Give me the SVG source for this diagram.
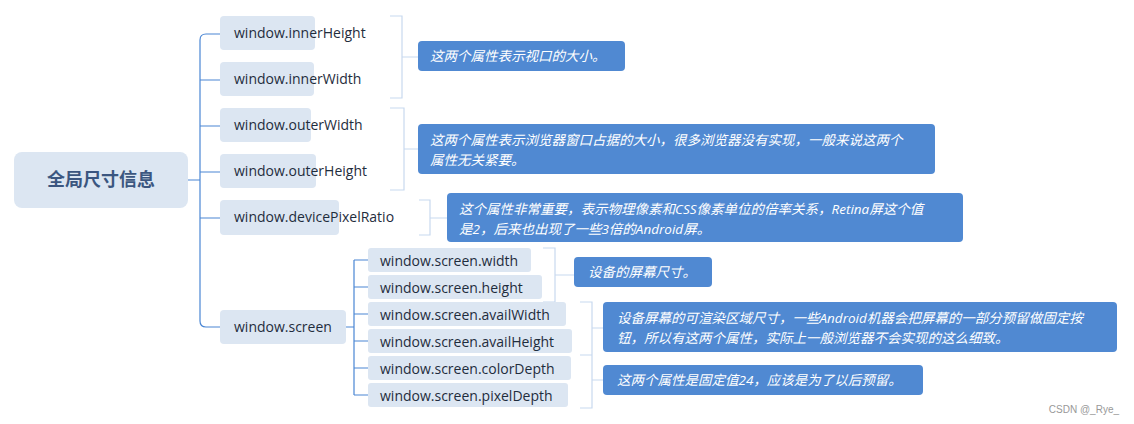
<svg xmlns="http://www.w3.org/2000/svg" width="1134" height="424" viewBox="0 0 1134 424">
<style>
.n{fill:#dce6f2}
.t{font-family:"Open Sans","Noto Sans",sans-serif;font-size:14px;fill:#1f2d3d}
.c{fill:#5089d2}
.ct{font-family:"Open Sans","Noto Sans CJK SC",sans-serif;font-size:13.5px;fill:#fff;font-style:italic}
.l{fill:none;stroke:#4a86d4;stroke-width:1.2}
.b{fill:none;stroke:#c8d9ef;stroke-width:1.2}
</style>
<rect width="1134" height="424" fill="#fff"/>
<g id="connectors">
<path class="l" d="M188 180H200M200 40Q200 34 206 34H220M200 40V321Q200 327 206 327H220M200 80H220M200 126H220M200 172H220M200 218H220"/>
<path class="l" d="M346 327H354M354 260V395M354 260H368M354 287H368M354 314H368M354 341H368M354 368H368M354 395H368"/>
<path class="b" d="M390 16H402V98H390M402 57H418M390 108H404V190H390M404 149H418M419 200H430V235H419M430 218H447M543 248H555V302H543M555 275H574M580 302H592V355H580M592 328H603M580 355H592V408H580M592 380H603"/>
</g>
<g id="root"><rect class="n" x="14" y="152" width="174" height="56" rx="8"/><text x="101" y="186" text-anchor="middle" style="font-family:'Noto Sans CJK SC',sans-serif;font-size:18px;font-weight:bold;fill:#3b5680">全局尺寸信息</text></g>
<g id="innerHeight"><rect class="n" x="220" y="16" width="95" height="34" rx="4"/><text class="t" x="234" y="38">window.innerHeight</text></g>
<g id="innerWidth"><rect class="n" x="220" y="62" width="94" height="34" rx="4"/><text class="t" x="234" y="84">window.innerWidth</text></g>
<g id="outerWidth"><rect class="n" x="220" y="108" width="91" height="34" rx="4"/><text class="t" x="234" y="130">window.outerWidth</text></g>
<g id="outerHeight"><rect class="n" x="220" y="154" width="96" height="34" rx="4"/><text class="t" x="234" y="176">window.outerHeight</text></g>
<g id="dpr"><rect class="n" x="220" y="200" width="119" height="35" rx="4"/><text class="t" x="234" y="222">window.devicePixelRatio</text></g>
<g id="screen"><rect class="n" x="220" y="310" width="126" height="34" rx="4"/><text class="t" x="234" y="332">window.screen</text></g>
<g id="sw"><rect class="n" x="368" y="248" width="163" height="24" rx="3"/><text class="t" x="380" y="266">window.screen.width</text></g>
<g id="sh"><rect class="n" x="368" y="275" width="174" height="24" rx="3"/><text class="t" x="380" y="293">window.screen.height</text></g>
<g id="saw"><rect class="n" x="368" y="302" width="198" height="24" rx="3"/><text class="t" x="380" y="320">window.screen.availWidth</text></g>
<g id="sah"><rect class="n" x="368" y="329" width="204" height="24" rx="3"/><text class="t" x="380" y="347">window.screen.availHeight</text></g>
<g id="scd"><rect class="n" x="368" y="356" width="203" height="24" rx="3"/><text class="t" x="380" y="374">window.screen.colorDepth</text></g>
<g id="spd"><rect class="n" x="368" y="383" width="200" height="24" rx="3"/><text class="t" x="380" y="401">window.screen.pixelDepth</text></g>
<g id="c1"><rect class="c" x="418" y="41" width="207" height="30" rx="4"/><text class="ct" x="430" y="61">这两个属性表示视口的大小。</text></g>
<g id="c2"><rect class="c" x="418" y="124" width="517" height="50" rx="4"/><text class="ct" x="430" y="145">这两个属性表示浏览器窗口占据的大小，很多浏览器没有实现，一般来说这两个</text><text class="ct" x="430" y="165">属性无关紧要。</text></g>
<g id="c3"><rect class="c" x="447" y="193" width="516" height="49" rx="4"/><text class="ct" x="459" y="214"> 这个属性非常重要，表示物理像素和CSS像素单位的倍率关系，Retina屏这个值</text><text class="ct" x="459" y="234">是2，后来也出现了一些3倍的Android屏。</text></g>
<g id="c4"><rect class="c" x="574" y="257" width="138" height="30" rx="4"/><text class="ct" x="588" y="277">设备的屏幕尺寸。</text></g>
<g id="c5"><rect class="c" x="603" y="302" width="514" height="50" rx="4"/><text class="ct" x="617" y="323">设备屏幕的可渲染区域尺寸，一些Android机器会把屏幕的一部分预留做固定按</text><text class="ct" x="617" y="343">钮，所以有这两个属性，实际上一般浏览器不会实现的这么细致。</text></g>
<g id="c6"><rect class="c" x="603" y="365" width="320" height="30" rx="4"/><text class="ct" x="617" y="385">这两个属性是固定值24，应该是为了以后预留。</text></g>
<text x="1119" y="413" text-anchor="end" style="font-family:'Liberation Sans',sans-serif;font-size:10px;fill:#999">CSDN @_Rye_</text>
</svg>
